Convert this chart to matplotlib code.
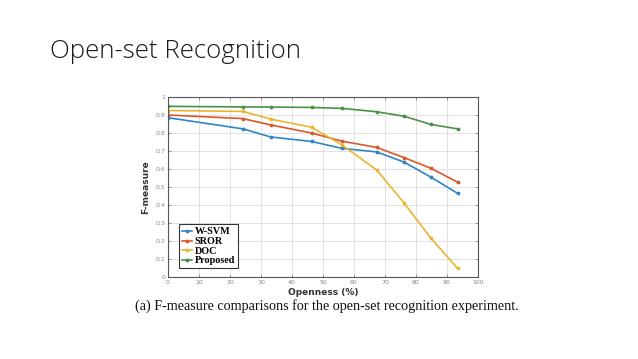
import matplotlib
matplotlib.use("Agg")
import matplotlib.pyplot as plt

openness = [0, 24.2, 33.1, 46.3, 56.0, 67.3, 76.2, 84.7, 93.4]
wsvm = [0.885, 0.823, 0.778, 0.753, 0.715, 0.695, 0.638, 0.556, 0.465]
sror = [0.900, 0.880, 0.845, 0.800, 0.755, 0.720, 0.663, 0.605, 0.527]
doc = [0.925, 0.920, 0.877, 0.832, 0.735, 0.595, 0.410, 0.218, 0.048]
proposed = [0.948, 0.945, 0.944, 0.942, 0.937, 0.918, 0.893, 0.848, 0.823]
series_names = ["W-SVM", "SROR", "DOC", "Proposed"]
colors = ["#2f86c6", "#d9582a", "#eab530", "#4a9245"]
xticks = list(range(0, 101, 10))
yticks = [i / 10 for i in range(11)]
ytick_labels = ["0"] + [f"{v:.1f}" for v in yticks[1:-1]] + ["1"]

fig = plt.figure(figsize=(6.38, 3.59), dpi=100)
fig.patch.set_facecolor("white")

ax = fig.add_axes([0.2633, 0.2284, 0.4859, 0.5014])
for y, name, c in zip([wsvm, sror, doc, proposed], series_names, colors):
    ax.plot(openness, y, color=c, lw=1.2, marker='.', ms=3.5, label=name)

ax.set_xlim(0, 100)
ax.set_ylim(0, 1)
ax.set_xticks(xticks)
ax.set_xticklabels([str(t) for t in xticks])
ax.set_yticks(yticks)
ax.set_yticklabels(ytick_labels)
ax.tick_params(axis='both', labelsize=4.5, colors='#888888', length=2.5, width=0.6,
               direction='in', top=True, right=True, pad=2)
ax.grid(True, color='#dddddd', lw=0.6)
for s in ax.spines.values():
    s.set_color('#555555')
    s.set_linewidth(0.8)
ax.set_xlabel("Openness (%)", fontsize=6.5, fontweight='bold', color='#333333', labelpad=2)
ax.set_ylabel("F-measure", fontsize=6.5, fontweight='bold', color='#333333', labelpad=4)

leg = ax.legend(loc='lower left', prop={'family': 'Liberation Serif', 'weight': 'bold', 'size': 7.3},
                frameon=True, fancybox=False, edgecolor='black', handlelength=1.0,
                handletextpad=0.2, labelspacing=0.05, borderpad=0.3,
                bbox_to_anchor=(0.02, 0.02))
leg.get_frame().set_linewidth(0.8)

fig.text(50 / 638, 1 - 52 / 359, "Open-set Recognition", fontsize=18.6, family='Open Sans',
         fontweight='light', color='#1a1a1a', ha='left', va='center')
fig.text(327 / 638, 1 - 306 / 359,
         "(a) F-measure comparisons for the open-set recognition experiment.",
         fontsize=10.2, family='Liberation Serif', color='#111111', ha='center', va='center')

fig.savefig("out.png", dpi=100, facecolor='white')
